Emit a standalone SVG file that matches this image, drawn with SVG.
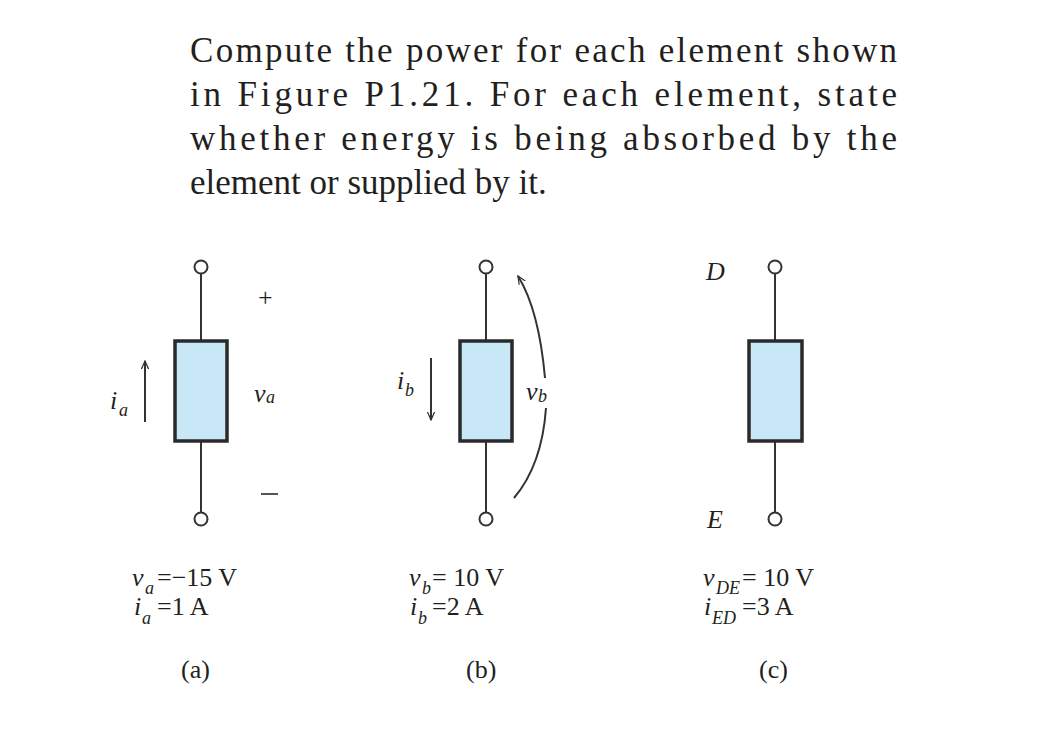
<svg xmlns="http://www.w3.org/2000/svg" width="1060" height="748" viewBox="0 0 1060 748">
<style>
text{font-family:"Liberation Serif","Times New Roman",serif;fill:#231f20}
.t{font-size:35px}
.l{font-size:26px}
.i{font-style:italic}
.s{font-size:18px;font-style:italic}
.w{stroke:#333;stroke-width:2;fill:none}
.c{stroke:#333;stroke-width:2;fill:#fff}
.b{stroke:#2a2a2a;stroke-width:3.5;fill:#c8e8f8}
</style>
<defs><marker id="ah" viewBox="0 0 10 10" refX="9" refY="5" markerWidth="9" markerHeight="9" markerUnits="userSpaceOnUse" orient="auto"><path d="M0,1 L9,5 L0,9" fill="none" stroke="#333" stroke-width="1.4"/></marker></defs>
<rect width="1060" height="748" fill="#fff"/>
<text class="t" x="190" y="62" textLength="707">Compute the power for each element shown</text>
<text class="t" x="190" y="106" textLength="707">in Figure P1.21. For each element, state</text>
<text class="t" x="190" y="150" textLength="707">whether energy is being absorbed by the</text>
<text class="t" x="190" y="194">element or supplied by it.</text>
<g id="a">
<line class="w" x1="201" y1="274" x2="201" y2="341"/><line class="w" x1="201" y1="441" x2="201" y2="512"/>
<circle class="c" cx="201" cy="267" r="6.5"/><circle class="c" cx="201" cy="519" r="6.5"/>
<rect class="b" x="175" y="341" width="52" height="100"/>
<line class="w" x1="145" y1="422" x2="145" y2="361" marker-end="url(#ah)"/>
<text class="l i" x="110" y="409">i</text><text class="s" x="119" y="416">a</text>
<text class="l i" x="254" y="402">v</text><text class="s" x="266" y="403">a</text>
<text class="l" x="258" y="306">+</text><line x1="261" y1="494" x2="278" y2="494" stroke="#555" stroke-width="2"/>
<text class="l i" x="132" y="586">v</text><text class="s" x="145" y="594">a</text><text class="l" x="157" y="586">=−15 V</text>
<text class="l i" x="134" y="615">i</text><text class="s" x="142" y="624">a</text><text class="l" x="157" y="615">=1 A</text>
<text class="l" x="181" y="678">(a)</text>
</g>
<g id="b">
<line class="w" x1="486" y1="274" x2="486" y2="341"/><line class="w" x1="486" y1="441" x2="486" y2="512"/>
<circle class="c" cx="486" cy="267" r="6.5"/><circle class="c" cx="486" cy="519" r="6.5"/>
<rect class="b" x="460" y="341" width="52" height="100"/>
<line class="w" x1="431" y1="358" x2="431" y2="420" marker-end="url(#ah)"/>
<text class="l i" x="397" y="389">i</text><text class="s" x="405" y="396">b</text>
<text class="l i" x="526" y="400">v</text><text class="s" x="538" y="402">b</text>
<path class="w" d="M545,378 Q539,310 518,276" marker-end="url(#ah)"/>
<path class="w" d="M546,408 Q542,465 514,498"/>
<text class="l i" x="409" y="586">v</text><text class="s" x="422" y="594">b</text><text class="l" x="432" y="586">= 10 V</text>
<text class="l i" x="410" y="615">i</text><text class="s" x="418" y="624">b</text><text class="l" x="432" y="615">=2 A</text>
<text class="l" x="466" y="678">(b)</text>
</g>
<g id="c">
<line class="w" x1="775" y1="274" x2="775" y2="341"/><line class="w" x1="775" y1="441" x2="775" y2="512"/>
<circle class="c" cx="775" cy="267" r="6.5"/><circle class="c" cx="775" cy="519" r="6.5"/>
<rect class="b" x="749" y="341" width="53" height="100"/>
<text class="l i" x="706" y="280">D</text><text class="l i" x="707" y="528">E</text>
<text class="l i" x="703" y="586">v</text><text class="s" x="716" y="594">DE</text><text class="l" x="742" y="586">= 10 V</text>
<text class="l i" x="704" y="615">i</text><text class="s" x="712" y="624">ED</text><text class="l" x="742" y="615">=3 A</text>
<text class="l" x="759" y="678">(c)</text>
</g>
</svg>
